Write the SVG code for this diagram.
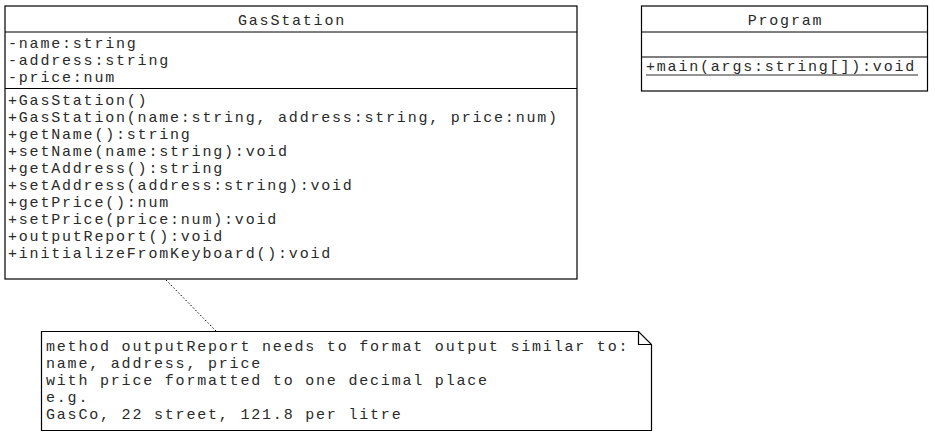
<svg xmlns="http://www.w3.org/2000/svg" width="935" height="437" viewBox="0 0 935 437">
<style>
.box{fill:#fff;stroke:#000;stroke-width:1.2}
.sep{stroke:#000;stroke-width:1.2}
text{font-family:"Liberation Mono","Courier New",monospace;font-size:15px;letter-spacing:1.8px;fill:#2a2a2a}
.c{text-anchor:middle}
</style>
<rect width="935" height="437" fill="#fff"/>
<g id="connectors">
<line x1="166" y1="280" x2="216" y2="331" stroke="#000" stroke-width="1" stroke-dasharray="1.5,2"/>
</g>
<g id="GasStation">
<rect class="box" x="5" y="6" width="572" height="273"/>
<line class="sep" x1="5" y1="32" x2="577" y2="32"/>
<line class="sep" x1="5" y1="88.5" x2="577" y2="88.5"/>
<text class="c" x="292" y="25">GasStation</text>
<text x="8" y="48">-name:string</text>
<text x="8" y="65">-address:string</text>
<text x="8" y="82">-price:num</text>
<text x="8" y="105">+GasStation()</text>
<text x="8" y="122">+GasStation(name:string, address:string, price:num)</text>
<text x="8" y="139">+getName():string</text>
<text x="8" y="156">+setName(name:string):void</text>
<text x="8" y="173">+getAddress():string</text>
<text x="8" y="190">+setAddress(address:string):void</text>
<text x="8" y="207">+getPrice():num</text>
<text x="8" y="224">+setPrice(price:num):void</text>
<text x="8" y="241">+outputReport():void</text>
<text x="8" y="258">+initializeFromKeyboard():void</text>
</g>
<g id="Program">
<rect class="box" x="641.5" y="6" width="286" height="85"/>
<line class="sep" x1="641.5" y1="32" x2="927.5" y2="32"/>
<line class="sep" x1="641.5" y1="57" x2="927.5" y2="57"/>
<text class="c" x="785.5" y="25">Program</text>
<text x="646" y="71">+main(args:string[]):void</text>
<line x1="646" y1="75" x2="918" y2="75" stroke="#2a2a2a" stroke-width="1"/>
</g>
<g id="Note">
<path class="box" d="M41.5,331.5 H638.5 L651.5,344.5 V430.5 H41.5 Z"/>
<path d="M638.5,331.5 V344.5 H651.5" fill="none" stroke="#000" stroke-width="1.2"/>
<text x="46" y="351">method outputReport needs to format output similar to:</text>
<text x="46" y="368">name, address, price</text>
<text x="46" y="385">with price formatted to one decimal place</text>
<text x="46" y="402">e.g.</text>
<text x="46" y="419">GasCo, 22 street, 121.8 per litre</text>
</g>
</svg>
